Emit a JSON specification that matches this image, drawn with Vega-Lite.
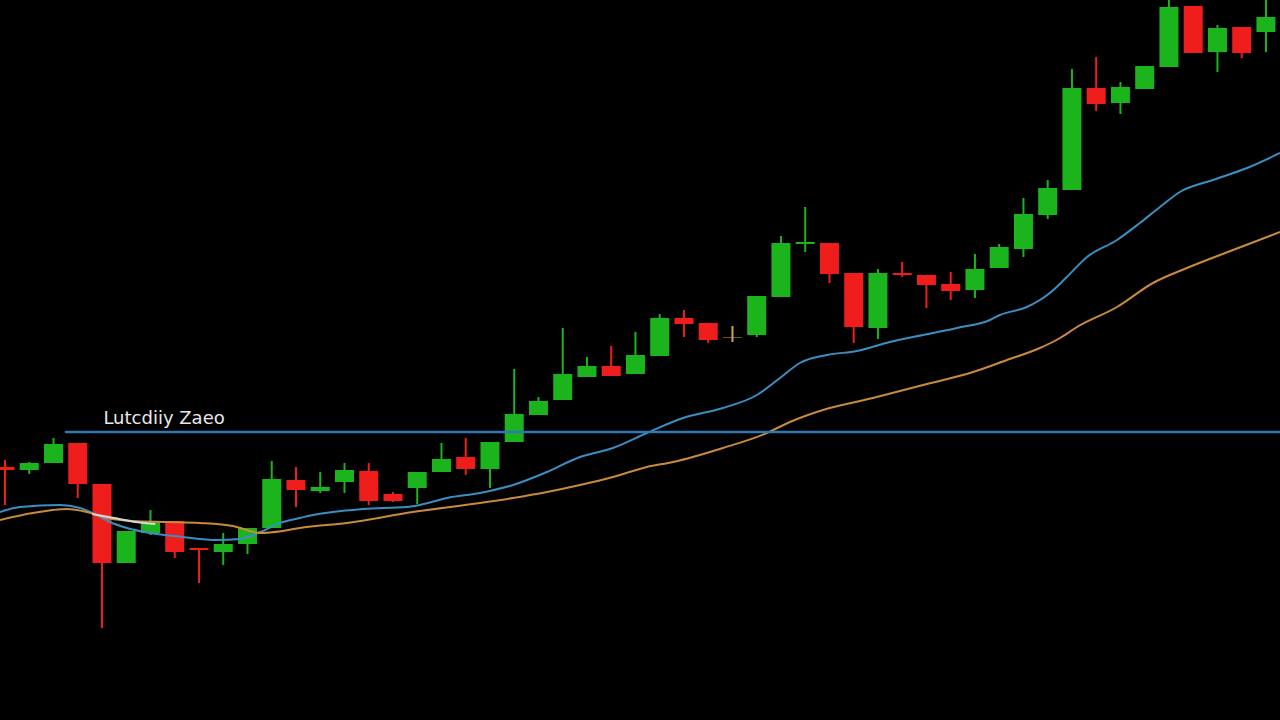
{
  "$schema": "https://vega.github.io/schema/vega-lite/v6.json",
  "autosize": {"type": "none"},
  "width": 1280,
  "height": 720,
  "padding": 0,
  "background": "#000000",
  "config": {"view": {"stroke": null}, "scale": {"continuousPadding": 0}},
  "datasets": {
    "candles": [
      {"i": 0, "o": 253, "c": 250, "h": 260, "l": 215},
      {"i": 1, "o": 250, "c": 257, "h": 258, "l": 246},
      {"i": 2, "o": 257, "c": 276, "h": 282, "l": 257},
      {"i": 3, "o": 277, "c": 236, "h": 277, "l": 222},
      {"i": 4, "o": 236, "c": 157, "h": 236, "l": 92},
      {"i": 5, "o": 157, "c": 189, "h": 189, "l": 157},
      {"i": 6, "o": 187, "c": 198, "h": 210, "l": 185},
      {"i": 7, "o": 199, "c": 168, "h": 199, "l": 162},
      {"i": 8, "o": 172, "c": 170, "h": 172, "l": 137},
      {"i": 9, "o": 168, "c": 176, "h": 187, "l": 155},
      {"i": 10, "o": 176, "c": 192, "h": 192, "l": 166},
      {"i": 11, "o": 192, "c": 241, "h": 259, "l": 192},
      {"i": 12, "o": 240, "c": 230, "h": 253, "l": 213},
      {"i": 13, "o": 229, "c": 233, "h": 248, "l": 227},
      {"i": 14, "o": 238, "c": 250, "h": 257, "l": 227},
      {"i": 15, "o": 249, "c": 219, "h": 257, "l": 215},
      {"i": 16, "o": 226, "c": 219, "h": 228, "l": 218},
      {"i": 17, "o": 232, "c": 248, "h": 248, "l": 216},
      {"i": 18, "o": 248, "c": 261, "h": 277, "l": 248},
      {"i": 19, "o": 263, "c": 251, "h": 282, "l": 245},
      {"i": 20, "o": 251, "c": 278, "h": 278, "l": 232},
      {"i": 21, "o": 278, "c": 306, "h": 351, "l": 278},
      {"i": 22, "o": 305, "c": 319, "h": 323, "l": 305},
      {"i": 23, "o": 320, "c": 346, "h": 392, "l": 320},
      {"i": 24, "o": 343, "c": 354, "h": 363, "l": 343},
      {"i": 25, "o": 354, "c": 344, "h": 374, "l": 344},
      {"i": 26, "o": 346, "c": 365, "h": 388, "l": 346},
      {"i": 27, "o": 364, "c": 402, "h": 406, "l": 364},
      {"i": 28, "o": 402, "c": 396, "h": 410, "l": 383},
      {"i": 29, "o": 397, "c": 380, "h": 397, "l": 377},
      {"i": 30, "o": 383, "c": 382.5, "h": 394, "l": 378},
      {"i": 31, "o": 385, "c": 424, "h": 424, "l": 383},
      {"i": 32, "o": 423, "c": 477, "h": 484, "l": 423},
      {"i": 33, "o": 476, "c": 478, "h": 513, "l": 468},
      {"i": 34, "o": 477, "c": 446, "h": 477, "l": 437},
      {"i": 35, "o": 447, "c": 393, "h": 447, "l": 377},
      {"i": 36, "o": 392, "c": 447, "h": 451, "l": 381},
      {"i": 37, "o": 447, "c": 445, "h": 458, "l": 443},
      {"i": 38, "o": 445, "c": 435, "h": 445, "l": 412},
      {"i": 39, "o": 436, "c": 429, "h": 448, "l": 420},
      {"i": 40, "o": 430, "c": 451, "h": 466, "l": 422},
      {"i": 41, "o": 452, "c": 473, "h": 476, "l": 452},
      {"i": 42, "o": 471, "c": 506, "h": 522, "l": 463},
      {"i": 43, "o": 505, "c": 532, "h": 540, "l": 501},
      {"i": 44, "o": 530, "c": 632, "h": 651, "l": 530},
      {"i": 45, "o": 632, "c": 616, "h": 663, "l": 609},
      {"i": 46, "o": 617, "c": 633, "h": 638, "l": 606},
      {"i": 47, "o": 631, "c": 654, "h": 654, "l": 631},
      {"i": 48, "o": 653, "c": 713, "h": 720, "l": 653},
      {"i": 49, "o": 714, "c": 667, "h": 714, "l": 667},
      {"i": 50, "o": 668, "c": 692, "h": 695, "l": 648},
      {"i": 51, "o": 693, "c": 667, "h": 693, "l": 662},
      {"i": 52, "o": 688, "c": 703, "h": 720, "l": 668}
    ],
    "ma": [
      {"s": "fast", "i": -0.21, "v": 208}, {"s": "fast", "i": 0.62, "v": 213}, {"s": "fast", "i": 2.27, "v": 215},
      {"s": "fast", "i": 3.09, "v": 212}, {"s": "fast", "i": 3.79, "v": 205}, {"s": "fast", "i": 4.33, "v": 198},
      {"s": "fast", "i": 5.03, "v": 192}, {"s": "fast", "i": 5.98, "v": 187}, {"s": "fast", "i": 7.34, "v": 183},
      {"s": "fast", "i": 8.74, "v": 180}, {"s": "fast", "i": 9.69, "v": 181}, {"s": "fast", "i": 10.52, "v": 188},
      {"s": "fast", "i": 11.46, "v": 198}, {"s": "fast", "i": 12.16, "v": 202}, {"s": "fast", "i": 12.7, "v": 205},
      {"s": "fast", "i": 14.76, "v": 211}, {"s": "fast", "i": 16.58, "v": 213}, {"s": "fast", "i": 17.11, "v": 215},
      {"s": "fast", "i": 18.23, "v": 222}, {"s": "fast", "i": 19.59, "v": 227}, {"s": "fast", "i": 20.95, "v": 235},
      {"s": "fast", "i": 22.35, "v": 248}, {"s": "fast", "i": 23.71, "v": 263}, {"s": "fast", "i": 25.07, "v": 272},
      {"s": "fast", "i": 26.47, "v": 287}, {"s": "fast", "i": 27.96, "v": 302}, {"s": "fast", "i": 29.61, "v": 312},
      {"s": "fast", "i": 31.01, "v": 325}, {"s": "fast", "i": 31.96, "v": 342}, {"s": "fast", "i": 32.78, "v": 357},
      {"s": "fast", "i": 33.9, "v": 365}, {"s": "fast", "i": 35.13, "v": 369}, {"s": "fast", "i": 36.49, "v": 378},
      {"s": "fast", "i": 37.86, "v": 385}, {"s": "fast", "i": 39.26, "v": 392}, {"s": "fast", "i": 40.62, "v": 400},
      {"s": "fast", "i": 41.03, "v": 405}, {"s": "fast", "i": 42.14, "v": 413}, {"s": "fast", "i": 43.09, "v": 427},
      {"s": "fast", "i": 43.79, "v": 443}, {"s": "fast", "i": 44.62, "v": 463}, {"s": "fast", "i": 45.86, "v": 480},
      {"s": "fast", "i": 46.8, "v": 497}, {"s": "fast", "i": 47.63, "v": 513}, {"s": "fast", "i": 48.45, "v": 528},
      {"s": "fast", "i": 49.81, "v": 540}, {"s": "fast", "i": 51.22, "v": 552}, {"s": "fast", "i": 52.58, "v": 567},
      {"s": "slow", "i": -0.21, "v": 200}, {"s": "slow", "i": 1.15, "v": 207}, {"s": "slow", "i": 2.56, "v": 211},
      {"s": "slow", "i": 3.38, "v": 208}, {"s": "slow", "i": 4.21, "v": 202}, {"s": "slow", "i": 5.28, "v": 199},
      {"s": "slow", "i": 6.68, "v": 198}, {"s": "slow", "i": 8.04, "v": 197}, {"s": "slow", "i": 9.4, "v": 194},
      {"s": "slow", "i": 10.52, "v": 187}, {"s": "slow", "i": 11.46, "v": 189}, {"s": "slow", "i": 12.16, "v": 192},
      {"s": "slow", "i": 14.1, "v": 197}, {"s": "slow", "i": 16.82, "v": 208}, {"s": "slow", "i": 19.59, "v": 217},
      {"s": "slow", "i": 20.95, "v": 222}, {"s": "slow", "i": 22.35, "v": 228}, {"s": "slow", "i": 23.71, "v": 235},
      {"s": "slow", "i": 25.07, "v": 243}, {"s": "slow", "i": 26.47, "v": 253}, {"s": "slow", "i": 27.55, "v": 258},
      {"s": "slow", "i": 29.61, "v": 272}, {"s": "slow", "i": 31.42, "v": 287}, {"s": "slow", "i": 32.37, "v": 298},
      {"s": "slow", "i": 33.73, "v": 310}, {"s": "slow", "i": 35.79, "v": 322}, {"s": "slow", "i": 37.86, "v": 335},
      {"s": "slow", "i": 39.92, "v": 348}, {"s": "slow", "i": 41.32, "v": 360}, {"s": "slow", "i": 42.68, "v": 372},
      {"s": "slow", "i": 43.51, "v": 382}, {"s": "slow", "i": 44.21, "v": 393}, {"s": "slow", "i": 45.86, "v": 413},
      {"s": "slow", "i": 47.34, "v": 437}, {"s": "slow", "i": 48.74, "v": 452}, {"s": "slow", "i": 50.64, "v": 470},
      {"s": "slow", "i": 52.58, "v": 488},
      {"s": "pale", "i": 3.59, "v": 206}, {"s": "pale", "i": 4.5, "v": 202}, {"s": "pale", "i": 5.4, "v": 198},
      {"s": "pale", "i": 6.2, "v": 196}
    ],
    "zone": [
      {"i": 2.47, "i2": 52.6, "v": 288, "label": "Lutcdiiy Zaeo", "li": 6.56, "lv": 301}
    ]
  },
  "layer": [
    {
      "data": {"name": "candles"},
      "mark": {"type": "rule", "strokeWidth": 2},
      "encoding": {
        "x": {"field": "i", "type": "quantitative", "scale": {"domain": [-0.206, 52.58], "nice": false, "zero": false, "padding": 0}, "axis": null},
        "y": {"field": "l", "type": "quantitative", "scale": {"domain": [0, 720], "nice": false, "zero": false, "padding": 0}, "axis": null},
        "y2": {"field": "h"},
        "color": {"condition": [{"test": "abs(datum.c - datum.o) < 1", "value": "#d9a43c"}, {"test": "datum.c > datum.o", "value": "#1cb41c"}], "value": "#f01d1d"}
      }
    },
    {
      "data": {"name": "candles"},
      "mark": {"type": "bar", "width": 19},
      "encoding": {
        "x": {"field": "i", "type": "quantitative"},
        "y": {"field": "o", "type": "quantitative"},
        "y2": {"field": "c"},
        "color": {"condition": [{"test": "abs(datum.c - datum.o) < 1", "value": "#d9a43c"}, {"test": "datum.c > datum.o", "value": "#1cb41c"}], "value": "#f01d1d"}
      }
    },
    {
      "data": {"name": "ma"},
      "mark": {"type": "line", "strokeWidth": 2, "interpolate": "monotone"},
      "encoding": {
        "x": {"field": "i", "type": "quantitative"},
        "y": {"field": "v", "type": "quantitative"},
        "detail": {"field": "s"},
        "color": {"field": "s", "type": "nominal", "scale": {"domain": ["fast", "slow", "pale"], "range": ["#3a8fc2", "#c98a3c", "#d0d8d8"]}, "legend": null}
      }
    },
    {
      "data": {"name": "zone"},
      "mark": {"type": "rule", "strokeWidth": 2.5, "color": "#2c7ab8"},
      "encoding": {
        "x": {"field": "i", "type": "quantitative"},
        "x2": {"field": "i2"},
        "y": {"field": "v", "type": "quantitative"}
      }
    },
    {
      "data": {"name": "zone"},
      "mark": {"type": "text", "font": "DejaVu Sans", "fontSize": 18, "color": "#e8e8e8", "align": "center", "baseline": "middle"},
      "encoding": {
        "x": {"field": "li", "type": "quantitative"},
        "y": {"field": "lv", "type": "quantitative"},
        "text": {"field": "label"}
      }
    }
  ]
}
